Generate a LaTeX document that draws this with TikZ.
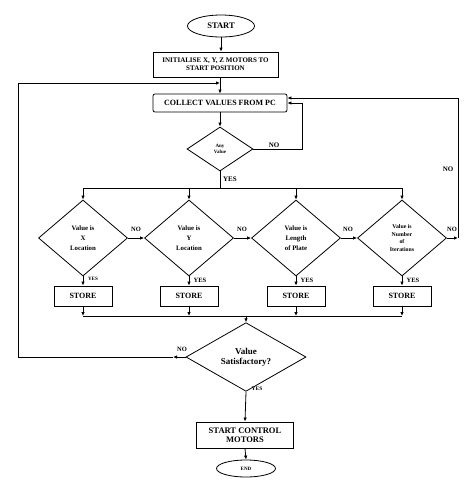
\documentclass[tikz,border=0pt]{standalone}
\usepackage{fontspec}
\setmainfont{Liberation Serif}
\usetikzlibrary{shapes.geometric,arrows.meta}
\begin{document}
\begin{tikzpicture}[x=1pt,y=-1pt,
  every node/.style={font=\bfseries},
  line/.style={line width=0.8pt},
  arr/.style={line width=0.8pt,-{Latex[length=4pt,width=3.5pt]}},
  boxs/.style={draw,line width=0.8pt,inner sep=0pt,align=center},
  dia/.style={draw,diamond,line width=0.8pt,inner sep=0pt,align=center},
  lbl/.style={inner sep=0pt,font=\bfseries\fontsize{6.5}{7}\selectfont}]
\useasboundingbox[fill=white] (0,0) rectangle (474,488);
% nodes
\node[draw,ellipse,line width=0.8pt,minimum width=67pt,minimum height=22pt,inner sep=0pt,font=\bfseries\fontsize{8.5}{9}\selectfont] (start) at (221,26) {START};
\node[boxs,minimum width=125pt,minimum height=25pt,font=\bfseries\fontsize{7}{8}\selectfont] (init) at (215.5,64.5) {INITIALISE X, Y, Z MOTORS TO\\START POSITION};
\node[boxs,rounded corners=2pt,minimum width=134pt,minimum height=18pt,font=\bfseries\fontsize{8}{9}\selectfont] (collect) at (220,103) {COLLECT VALUES FROM PC};
\node[dia,minimum width=66pt,minimum height=44pt,font=\bfseries\fontsize{5}{6}\selectfont] (any) at (220,149) {Any\\Value};
\node[dia,minimum width=89pt,minimum height=76pt,font=\bfseries\fontsize{6.8}{10}\selectfont] (d1) at (83,238) {Value is\\X\\Location};
\node[dia,minimum width=89pt,minimum height=76pt,font=\bfseries\fontsize{6.8}{10}\selectfont] (d2) at (189,238) {Value is\\Y\\Location};
\node[dia,minimum width=89pt,minimum height=76pt,font=\bfseries\fontsize{6.8}{10}\selectfont] (d3) at (296,238) {Value is\\Length\\of Plate};
\node[dia,minimum width=89pt,minimum height=76pt,font=\bfseries\fontsize{5.8}{7.5}\selectfont] (d4) at (402,238) {Value is\\Number\\of\\Iterations};
\node[boxs,minimum width=58pt,minimum height=20pt,font=\bfseries\fontsize{8}{9}\selectfont] (s1) at (83,296) {STORE};
\node[boxs,minimum width=58pt,minimum height=20pt,font=\bfseries\fontsize{8}{9}\selectfont] (s2) at (189,296) {STORE};
\node[boxs,minimum width=58pt,minimum height=20pt,font=\bfseries\fontsize{8}{9}\selectfont] (s3) at (296,296) {STORE};
\node[boxs,minimum width=58pt,minimum height=20pt,font=\bfseries\fontsize{8}{9}\selectfont] (s4) at (402,296) {STORE};
\node[dia,minimum width=120pt,minimum height=55pt,font=\bfseries\fontsize{9}{10}\selectfont] (sat) at (246,357) {Value\\Satisfactory?};
\node[boxs,minimum width=97pt,minimum height=26pt,font=\bfseries\fontsize{8.5}{9.5}\selectfont] (ctrl) at (245,435) {START CONTROL\\MOTORS};
\node[draw,ellipse,line width=0.8pt,minimum width=59pt,minimum height=17pt,inner sep=0pt,font=\bfseries\fontsize{5}{6}\selectfont] (end) at (246,468.5) {END};
% coordinates
\coordinate (na) at (302,149);
\coordinate (nb) at (302,103);
\coordinate (bus) at (220,188);
\coordinate (bl) at (83,188);
\coordinate (br) at (402,188);
\coordinate (rr) at (458,238);
\coordinate (rt) at (458,98);
\coordinate (c1) at (83,316);
\coordinate (c2) at (189,316);
\coordinate (c3) at (296,316);
\coordinate (c4) at (402,316);
\coordinate (cm) at (246,316);
\coordinate (nl) at (173,357);
\coordinate (lb) at (18,357);
\coordinate (lt) at (18,83);
\coordinate (jl) at (220,83);
% connectors
\draw[arr] (start) -- (start.south |- init.north);
\draw[arr] (init.south -| collect.north) -- (collect.north);
\draw[arr] (collect) -- (any);
\draw[line] (any.east) -- (na) -- (nb);
\draw[arr] (nb) -- (collect.east |- nb);
\draw[arr] (d4.east) -- (rr);
\draw[line] (rr) -- (rt);
\draw[arr] (rt) -- (collect.east |- rt);
\draw[line] (any.south) -- (bus);
\draw[line] (bl) -- (br);
\draw[arr] (bl) -- (d1.north);
\draw[arr] (bl -| d2.north) -- (d2.north);
\draw[arr] (bl -| d3.north) -- (d3.north);
\draw[arr] (br) -- (d4.north);
\draw[arr] (d1.east) -- (d2.west);
\draw[arr] (d2.east) -- (d3.west);
\draw[arr] (d3.east) -- (d4.west);
\draw[arr] (d1.south) -- (s1.north);
\draw[arr] (d2.south) -- (s2.north);
\draw[arr] (d3.south) -- (s3.north);
\draw[arr] (d4.south) -- (s4.north);
\draw[arr] (s1.south) -- (c1);
\draw[arr] (s2.south) -- (c2);
\draw[arr] (s3.south) -- (c3);
\draw[arr] (s4.south) -- (c4);
\draw[line] (c1) -- (c4);
\draw[arr] (cm) -- (sat.north);
\draw[arr] (sat.west) -- (nl);
\draw[line] (nl) -- (lb) -- (lt);
\draw[arr] (lt) -- (jl);
\draw[arr] (sat.south) -- (ctrl.north);
\draw[arr] (ctrl.south) -- (end.north);
% labels
\node[lbl,font=\bfseries\fontsize{7}{8}\selectfont] (lno0) at (274,145) {NO};
\node[lbl,font=\bfseries\fontsize{7}{8}\selectfont] (lyes0) at (230,179) {YES};
\node[lbl,font=\bfseries\fontsize{7}{8}\selectfont] (lnor) at (448,169) {NO};
\node[lbl] (ln1) at (136,229) {NO};
\node[lbl] (ln2) at (242,229) {NO};
\node[lbl] (ln3) at (348,229) {NO};
\node[lbl] (ln4) at (452,229) {NO};
\node[lbl,font=\bfseries\fontsize{5}{6}\selectfont] (ly1) at (93,279) {YES};
\node[lbl] (ly2) at (200,280) {YES};
\node[lbl] (ly3) at (307,280) {YES};
\node[lbl] (ly4) at (413,280) {YES};
\node[lbl] (lsn) at (182,349) {NO};
\node[lbl,font=\bfseries\fontsize{5.5}{6}\selectfont] (lsy) at (257,389) {YES};
\end{tikzpicture}
\end{document}
